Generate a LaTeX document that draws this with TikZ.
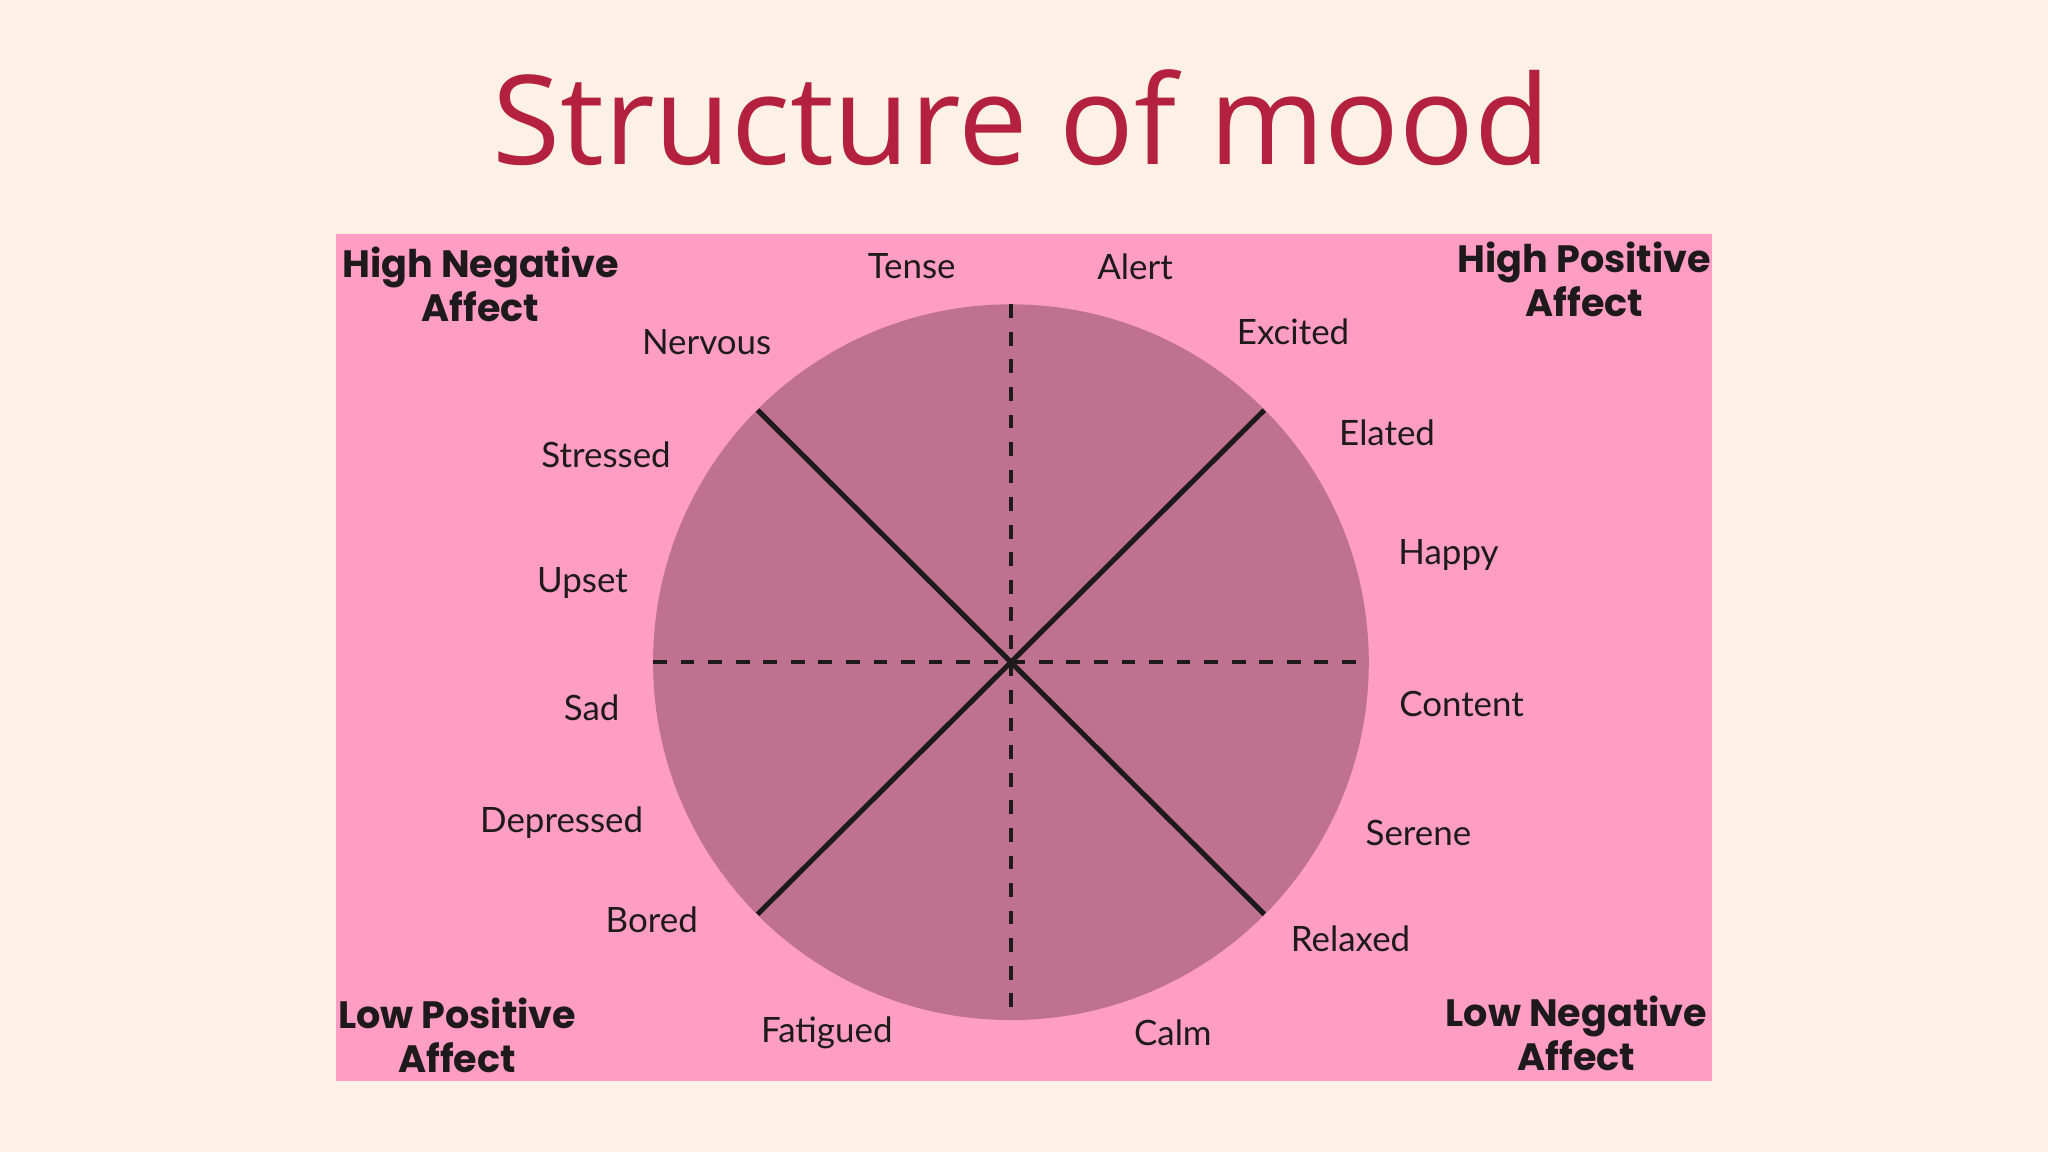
\documentclass[tikz,border=0pt]{standalone}
\usepackage{fontspec}
\setmainfont{Lato}
\newfontfamily\titlefont{Open Sans}
\newfontfamily\boldfont{Poppins}
\definecolor{bgc}{HTML}{FDF0E5}
\definecolor{pinkc}{HTML}{FF9DC3}
\definecolor{circc}{HTML}{BF7290}
\definecolor{titc}{HTML}{B3213F}
\definecolor{inkc}{HTML}{1E1A1C}
\tikzset{lab/.style={font=\fontsize{7.6}{9}\selectfont,text=inkc,inner sep=0pt},
corner/.style={font=\boldfont\bfseries\fontsize{8.3}{9.6}\selectfont,text=inkc,align=center,inner sep=0pt},
axis/.style={line width=1.1pt,draw=inkc}}
\begin{document}
\begin{tikzpicture}[x=0.01cm,y=-0.01cm]
\fill[bgc] (0,0) rectangle (1568,882);
\useasboundingbox (0,0) rectangle (1568,882);
\node[font=\titlefont\fontsize{27}{30}\selectfont,text=titc] (title) at (782,90) {Structure of mood};
\fill[pinkc] (257,179) rectangle (1311,828);
\fill[circc] (774,507) circle (274);
\coordinate (c) at (774,507);
\draw[axis,dashed,line width=0.9pt] (774,233) -- (774,781);
\draw[axis,dashed,line width=0.9pt] (500,507) -- (1048,507);
\draw[axis] (c) -- ++(-194,-193) coordinate (nw);
\draw[axis] (c) -- ++(194,-193) coordinate (ne);
\draw[axis] (c) -- ++(-194,193) coordinate (sw);
\draw[axis] (c) -- ++(194,193) coordinate (se);
\node[lab] (l1) at (698,204) {Tense};
\node[lab] (l2) at (869,204) {Alert};
\node[lab] (l3) at (990,254) {Excited};
\node[lab] (l4) at (1062,331) {Elated};
\node[lab] (l5) at (1109,425) {Happy};
\node[lab] (l6) at (1119,539) {Content};
\node[lab] (l7) at (1086,638) {Serene};
\node[lab] (l8) at (1034,719) {Relaxed};
\node[lab] (l9) at (898,791) {Calm};
\node[lab] (l10) at (633,791) {Fatigued};
\node[lab] (l11) at (499,704) {Bored};
\node[lab] (l12) at (430,630) {Depressed};
\node[lab] (l13) at (453,542) {Sad};
\node[lab] (l14) at (446,446) {Upset};
\node[lab] (l15) at (464,348) {Stressed};
\node[lab] (l16) at (541,262) {Nervous};
\node[corner] (hn) at (368,218) {High Negative\\Affect};
\node[corner] (hp) at (1213,214) {High Positive\\Affect};
\node[corner] (lp) at (350,793) {Low Positive\\Affect};
\node[corner] (ln) at (1207,791) {Low Negative\\Affect};
\end{tikzpicture}
\end{document}
